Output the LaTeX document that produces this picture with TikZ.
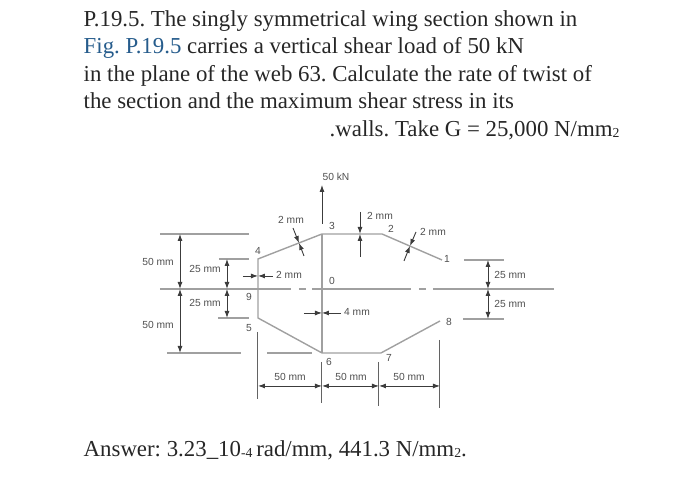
\documentclass[tikz,border=0pt]{standalone}
\usepackage{fontspec}
\setmainfont{Liberation Serif}
\setsansfont{Liberation Sans}
\usetikzlibrary{arrows.meta}
\frenchspacing
\definecolor{figblue}{RGB}{38,92,140}
\definecolor{figline}{RGB}{160,160,160}
\definecolor{figdim}{RGB}{60,60,60}
\definecolor{figtext}{RGB}{80,80,80}
\tikzset{
  qtext/.style={anchor=base west, inner sep=0pt, text=black!85, font=\fontsize{6.5}{8}\selectfont},
  wall/.style={draw=figline, line width=0.14mm},
  refline/.style={draw=figline, line width=0.12mm},
  extline/.style={draw=figdim!80, line width=0.1mm},
  dimline/.style={draw=figdim, line width=0.09mm, {Latex[length=0.7mm,width=0.5mm]}-{Latex[length=0.7mm,width=0.5mm]}},
  dimin/.style={draw=figdim, line width=0.09mm, -{Latex[length=0.7mm,width=0.5mm]}},
  lab/.style={inner sep=0pt, text=figtext, font=\sffamily\fontsize{2.92}{3.5}\selectfont}
}
\begin{document}
\begin{tikzpicture}
    \useasboundingbox (0,0) rectangle (7,4.95);
    % question text
    \node[qtext] (line1) at (0.83,4.68) {P.19.5. The singly symmetrical wing section shown in};
    \node[qtext] (line2) at (0.83,4.41) {\textcolor{figblue}{Fig. P.19.5} carries a vertical shear load of 50 kN};
    \node[qtext] (line3) at (0.83,4.13) {in the plane of the web 63. Calculate the rate of twist of};
    \node[qtext] (line4) at (0.83,3.86) {the section and the maximum shear stress in its};
    \node[qtext] (line5) at (3.29,3.58) {.walls. Take G = 25,000 N/mm\raisebox{-0.1pt}{\fontsize{3.9}{4}\selectfont 2}};
    \node[qtext] (answer) at (0.83,0.38) {Answer: 3.23\_10\raisebox{-0.1pt}{\fontsize{3.9}{4}\selectfont -4}\,rad/mm, 441.3 N/mm\raisebox{-0.1pt}{\fontsize{3.9}{4}\selectfont 2}.};
    % section points
    \coordinate (p1) at (4.42,2.35);
    \coordinate (p2) at (3.82,2.61);
    \coordinate (p3) at (3.22,2.61);
    \coordinate (p4) at (2.58,2.36);
    \coordinate (p5) at (2.58,1.77);
    \coordinate (p6) at (3.22,1.42);
    \coordinate (p7) at (3.81,1.42);
    \coordinate (p8) at (4.40,1.74);
    % walls
    \draw[wall] (p1) -- (p2) -- (p3) -- (p4) -- (p5) -- (p6) -- (p7) -- (p8);
    \draw[wall] (p3) -- (p6);
    % centre line
    \draw[refline] (1.60,2.06) -- (2.91,2.06);
    \draw[refline] (2.99,2.06) -- (3.06,2.06);
    \draw[refline] (3.12,2.06) -- (4.11,2.06);
    \draw[refline] (4.19,2.06) -- (4.26,2.06);
    \draw[refline] (4.33,2.06) -- (5.54,2.06);
    % load
    \draw[dimin] (3.22,2.71) -- (3.22,3.10);
    \node[lab] (load) at (3.36,3.18) {50 kN};
    % extension lines
    \draw[refline] (1.60,2.61) -- (2.49,2.61);
    \draw[refline] (2.19,2.36) -- (2.49,2.36);
    \draw[refline] (2.18,1.77) -- (2.49,1.77);
    \draw[refline] (1.67,1.42) -- (2.41,1.42);
    \draw[refline] (2.67,1.42) -- (3.12,1.42);
    \draw[refline] (4.64,2.35) -- (5.04,2.35);
    \draw[refline] (4.63,1.76) -- (5.04,1.76);
    % vertical dimensions
    \draw[dimline] (1.80,2.61) -- (1.80,2.06);
    \draw[dimline] (1.80,2.06) -- (1.80,1.42);
    \draw[dimline] (2.27,2.36) -- (2.27,2.06);
    \draw[dimline] (2.27,2.06) -- (2.27,1.77);
    \draw[dimline] (4.88,2.35) -- (4.88,2.06);
    \draw[dimline] (4.88,2.06) -- (4.88,1.76);
    \node[lab] (h1) at (1.58,2.33) {50 mm};
    \node[lab] (h2) at (1.58,1.70) {50 mm};
    \node[lab] (h3) at (2.05,2.26) {25 mm};
    \node[lab] (h4) at (2.05,1.92) {25 mm};
    \node[lab] (h5) at (5.10,2.20) {25 mm};
    \node[lab] (h6) at (5.10,1.91) {25 mm};
    % bottom dimensions
    \draw[extline] (2.58,1.63) -- (2.58,0.96);
    \draw[extline] (3.22,1.33) -- (3.22,0.92);
    \draw[extline] (3.79,1.33) -- (3.79,0.89);
    \draw[extline] (4.40,1.55) -- (4.40,0.87);
    \draw[dimline] (2.58,1.09) -- (3.22,1.09);
    \draw[dimline] (3.22,1.09) -- (3.79,1.09);
    \draw[dimline] (3.79,1.09) -- (4.40,1.09);
    \node[lab] (b1) at (2.90,1.18) {50 mm};
    \node[lab] (b2) at (3.51,1.18) {50 mm};
    \node[lab] (b3) at (4.09,1.18) {50 mm};
    % thickness dimensions
    \draw[dimin] (3.60,2.83) -- (3.60,2.61);
    \draw[dimin] (3.60,2.38) -- (3.60,2.61);
    \draw[dimin] (4.16,2.63) -- (4.10,2.49);
    \draw[dimin] (4.04,2.34) -- (4.10,2.49);
    \draw[dimin] (2.93,2.67) -- (2.99,2.52);
    \draw[dimin] (3.04,2.39) -- (2.99,2.52);
    \draw[dimin] (2.43,2.19) -- (2.58,2.19);
    \draw[dimin] (2.73,2.19) -- (2.58,2.19);
    \draw[dimin] (3.04,1.82) -- (3.22,1.82);
    \draw[dimin] (3.41,1.82) -- (3.22,1.82);
    \node[lab] (t1) at (2.91,2.75) {2 mm};
    \node[lab] (t2) at (3.80,2.79) {2 mm};
    \node[lab] (t3) at (4.33,2.63) {2 mm};
    \node[lab] (t4) at (2.89,2.20) {2 mm};
    \node[lab] (t5) at (3.57,1.83) {4 mm};
    % point numbers
    \node[lab] (n1) at (4.47,2.36) {1};
    \node[lab] (n2) at (3.91,2.66) {2};
    \node[lab] (n3) at (3.32,2.69) {3};
    \node[lab] (n4) at (2.58,2.44) {4};
    \node[lab] (n5) at (2.49,1.67) {5};
    \node[lab] (n6) at (3.29,1.33) {6};
    \node[lab] (n7) at (3.89,1.37) {7};
    \node[lab] (n8) at (4.49,1.73) {8};
    \node[lab] (n9) at (2.49,1.98) {9};
    \node[lab] (n0) at (3.32,2.14) {0};
\end{tikzpicture}
\end{document}
